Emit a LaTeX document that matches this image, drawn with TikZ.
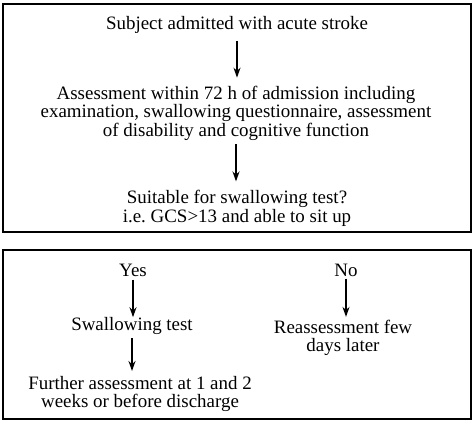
\documentclass[tikz,border=0pt]{standalone}
\usepackage{fontspec}
\setmainfont{Liberation Serif}
\usetikzlibrary{arrows.meta}
\tikzset{>={Stealth[length=10bp,width=7bp]}}
\tikzset{txt/.style={align=center, inner sep=2bp, font=\fontsize{19}{18.5}\selectfont},
  arr/.style={->, line width=1.6bp}}

\begin{document}
\begin{tikzpicture}[x=1bp, y=-1bp]
\useasboundingbox (0,0) rectangle (474,424);
\draw[line width=1.4bp] (3,4) rectangle (471,232);
\draw[line width=1.4bp] (3,250) rectangle (471,419);
\node[txt] (subj) at (237,24.5) {Subject admitted with acute stroke};
\node[txt] (assess) at (236,113) {Assessment within 72 h of admission including\\
examination, swallowing questionnaire, assessment\\
of disability and cognitive function};
\node[txt] (suit) at (237,208.5) {Suitable for swallowing test?\\i.e.\ GCS>13 and able to sit up};
\node[txt] (yes) at (133,270) {Yes};
\node[txt] (no) at (346,270) {No};
\node[txt] (swal) at (132,326) {Swallowing test};
\node[txt] (reas) at (343,338) {Reassessment few\\days later};
\node[txt] (furt) at (140,394) {Further assessment at 1 and 2\\weeks or before discharge};
\draw[arr, shorten <=5.5bp, shorten >=6bp] (subj.south) -- (subj.south |- assess.north);
\draw[arr, shorten <=2bp, shorten >=7bp] (assess.south) -- (assess.south |- suit.north);
\draw[arr, shorten <=1bp, shorten >=-2bp] (yes.south) -- (yes.south |- swal.north);
\draw[arr, shorten <=0bp, shorten >=1bp] (no.south) -- (no.south |- reas.north);
\draw[arr, shorten <=1bp, shorten >=3bp] (swal.south) -- (swal.south |- furt.north);
\end{tikzpicture}
\end{document}
